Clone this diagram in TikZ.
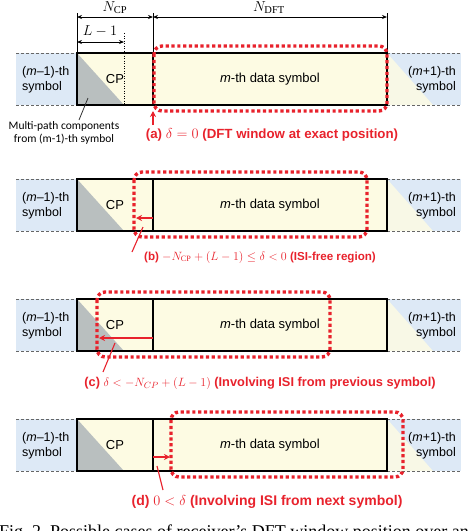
\documentclass[tikz,border=0pt]{standalone}
\usepackage{amsmath,amssymb}
\usepackage{fontspec}
\setmainfont{Liberation Serif}
\setsansfont{Liberation Sans}
\newfontfamily\calfont{Carlito}
\usetikzlibrary{positioning,arrows.meta,calc}

\definecolor{symblue}{HTML}{DDE9F6}
\definecolor{cpyellow}{HTML}{FDFBE3}
\definecolor{isigray}{HTML}{B9BFBF}
\definecolor{winred}{HTML}{E8222C}

\begin{document}
\begin{tikzpicture}[x=1pt, y=-1pt,
  lbl/.style={font=\sffamily\fontsize{12.5}{14.5}\selectfont, inner sep=0pt},
  datalbl/.style={font=\sffamily\fontsize{13}{15}\selectfont, inner sep=0pt},
  dimlbl/.style={font=\fontsize{15}{17}\selectfont, inner sep=0pt},
  caselbl/.style={font=\sffamily\bfseries\fontsize{#1}{15}\selectfont, text=winred, inner sep=0pt},
  caselbl/.default=13.3,
  symbox/.style={draw=black, line width=2.4pt},
  guide/.style={draw=black!60, line width=0.9pt, dash pattern=on 3pt off 2pt},
  dimarrow/.style={draw=black, line width=0.8pt, {Stealth[length=5pt,width=4pt]}-{Stealth[length=5pt,width=4pt]}},
  tickline/.style={draw=black, line width=0.9pt},
  window/.style={draw=winred, line width=3.4pt, dash pattern=on 3.2pt off 2.6pt, rounded corners=8pt},
  shiftarrow/.style={draw=winred, line width=1.3pt, -{Stealth[length=6pt,width=6pt]}},
  pointer/.style={draw=winred, line width=1.1pt}
]
\useasboundingbox (0,0) rectangle (474,531);

% --- four copies of the symbol row: previous / CP + data / next ---
\foreach \p/\t in {a/53,b/179,c/299,d/419} {
  \fill[symblue] (16,\t) rectangle (77,\t+52);
  \fill[symblue] (387,\t) rectangle (461,\t+52);
  \fill[cpyellow] (77,\t) rectangle (387,\t+52);
  \fill[cpyellow!85!symblue] (387,\t) -- (387,\t+52) -- (433,\t+52) -- cycle;
  \fill[isigray] (77,\t) -- (77,\t+52) -- (124,\t+52) -- cycle;
  \draw[guide] (16,\t) -- (77,\t) (16,\t+52) -- (77,\t+52);
  \draw[guide] (387,\t) -- (461,\t) (387,\t+52) -- (461,\t+52);
  \draw[symbox] (77,\t) rectangle (387,\t+52);
  \draw[symbox] (153,\t) -- (153,\t+52);
  \node[lbl, anchor=west, align=left] (prev-\p) at (22,\t+27) {(\textit{m}--1)-th\\symbol};
  \node[datalbl] (cp-\p) at (115,\t+26) {CP};
  \node[datalbl] (data-\p) at (270,\t+26) {\textit{m}-th data symbol};
  \node[lbl, anchor=east, align=right] (next-\p) at (456,\t+27) {(\textit{m}+1)-th\\symbol};
}

% --- dimensions on top of row (a) ---
\coordinate (cpL) at (77,17);
\coordinate (cpR) at (153,17);
\coordinate (dftR) at (387,17);
\coordinate (lL) at (77,42);
\coordinate (lR) at (124,42);
\draw[tickline] (77,13) -- (77,53);
\draw[tickline] (153,13) -- (153,53);
\draw[tickline] (387,13) -- (387,53);
\draw[black, line width=0.9pt, dash pattern=on 1pt off 1.5pt] (124,33) -- (124,105);
\draw[dimarrow] (cpL) -- (cpR);
\draw[dimarrow] (cpR) -- (dftR);
\draw[dimarrow] (lL) -- (lR);
\node[dimlbl] (ncp) at (115,8) {$N_{\mathrm{CP}}$};
\node[dimlbl] (ndft) at (269,8) {$N_{\mathrm{DFT}}$};
\node[dimlbl] (lm1) at (100,31) {$L-1$};

% --- multipath note ---
\node[font=\calfont\fontsize{11.5}{13.5}\selectfont, align=center, inner sep=0pt] (mp) at (64,133) {Multi-path components\\from (m-1)-th symbol};
\coordinate (mpTip) at (88,98);
\draw[black!80, line width=0.8pt] (79,120) -- (mpTip);

% --- (a) exact position ---
\draw[window] (154,46) rectangle (387,111);
\coordinate (aFoot) at (153,125);
\coordinate (aTip) at (153,111);
\draw[shiftarrow] (aFoot) -- (aTip);
\node[caselbl] (case-a) at (272,135) {(a) $\delta=0$ (DFT window at exact position)};

% --- (b) ISI-free ---
\draw[window] (134,172) rectangle (367,237);
\coordinate (bFrom) at (153,218);
\coordinate (bTo) at (136,218);
\draw[shiftarrow] (bFrom) -- (bTo);
\coordinate (bFoot) at (132,252);
\coordinate (bHead) at (143,227);
\draw[pointer] (bFoot) -- (bHead);
\node[caselbl=11.6] (case-b) at (260,257) {(b) $-N_{\mathrm{CP}}+(L-1)\le\delta<0$ (ISI-free region)};

% --- (c) ISI from previous symbol ---
\draw[window] (97,292) rectangle (330,357);
\coordinate (cFrom) at (153,338);
\coordinate (cTo) at (99,338);
\draw[shiftarrow] (cFrom) -- (cTo);
\coordinate (cFoot) at (103,372);
\coordinate (cHead) at (115,343);
\draw[pointer] (cFoot) -- (cHead);
\node[caselbl=12.8] (case-c) at (260,383) {(c) $\delta<-N_{CP}+(L-1)$ (Involving ISI from previous symbol)};

% --- (d) ISI from next symbol ---
\draw[window] (171,412) rectangle (403,477);
\coordinate (dFrom) at (153,457);
\coordinate (dTo) at (170,457);
\draw[shiftarrow] (dFrom) -- (dTo);
\coordinate (dFoot) at (163,490);
\coordinate (dHead) at (157,466);
\draw[pointer] (dFoot) -- (dHead);
\node[caselbl=14] (case-d) at (267,502) {(d) $0<\delta$ (Involving ISI from next symbol)};

% --- caption, cut by the page edge ---
\begin{scope}
  \clip (0,0) rectangle (474,531);
  \node[font=\fontsize{18}{20}\selectfont, anchor=base west, inner sep=0pt] (caption) at (-1,537) {Fig.~2.\ Possible cases of receiver's DFT window position over an};
\end{scope}

\end{tikzpicture}
\end{document}
